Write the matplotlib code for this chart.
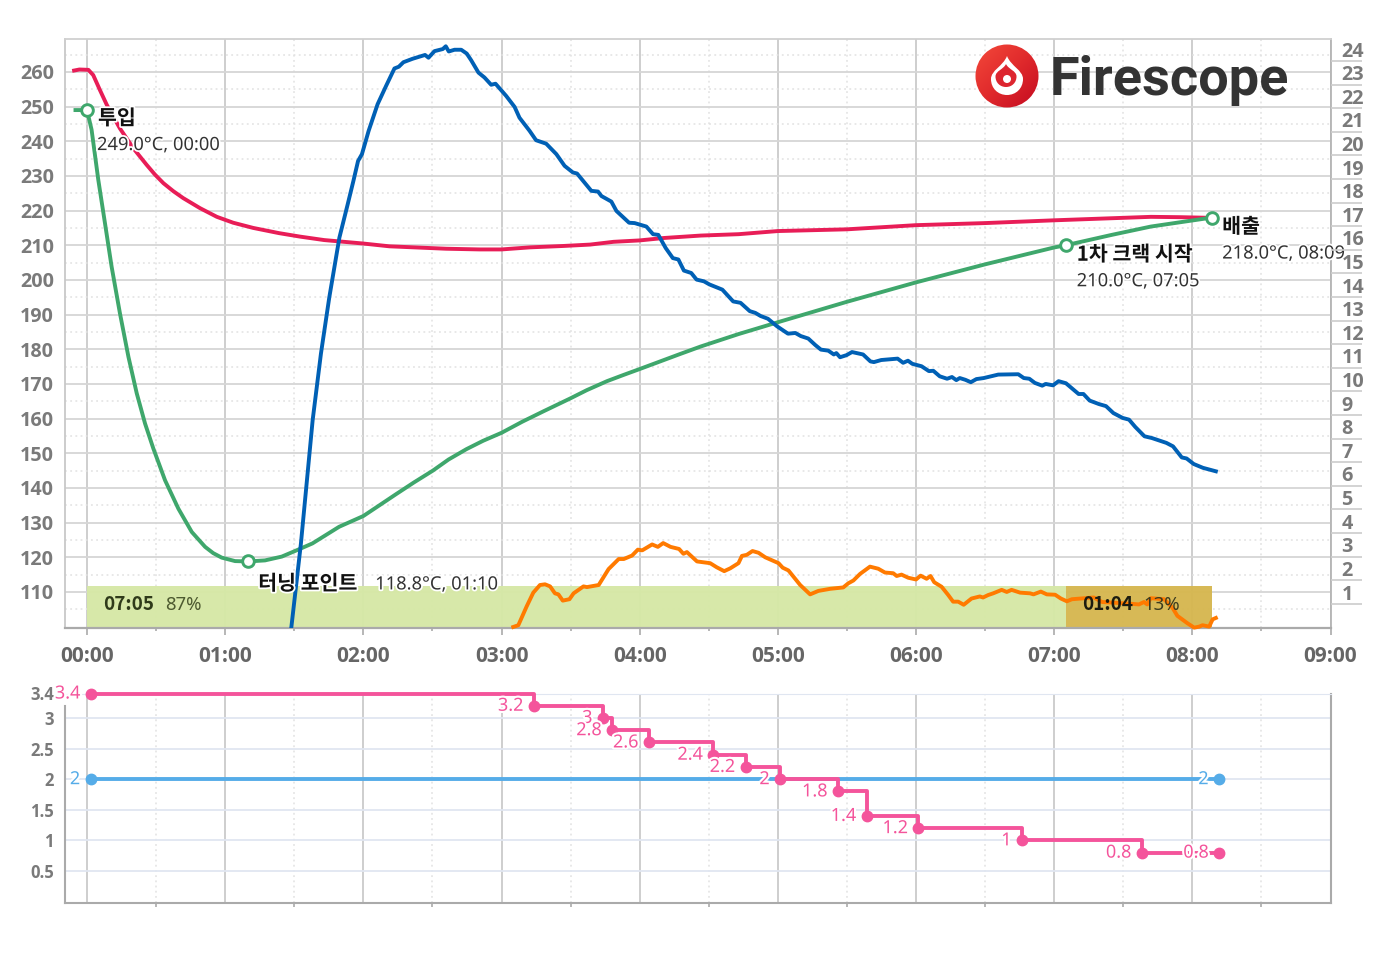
import numpy as np
import matplotlib
matplotlib.use('Agg')
import matplotlib.pyplot as plt
import matplotlib.patheffects as pe
from matplotlib.path import Path
from matplotlib.patches import PathPatch, Circle
from matplotlib.ticker import MultipleLocator, FixedLocator, FuncFormatter

KR = ['Noto Sans CJK KR', 'DejaVu Sans']
plt.rcParams['font.family'] = KR

# seconds / deg C
red_t = [-5.6, -3.3, 0.6, 2.7, 5.6, 8.6, 14.3, 20.1, 25.9, 29.5, 33.2, 37.5, 41.8, 49.1, 56.4, 63.5, 72.2, 83.4, 92.5, 103,
         120, 131.3, 156, 170.6, 180, 192.4, 206.9, 218.5, 228.7, 240, 250.5, 266.5, 283, 300, 330, 360, 390, 420,
         445, 462, 475, 489]
red_v = [260.4, 260.7, 260.6, 259.1, 254.8, 250.5, 243.7, 238, 233.2, 230.4, 227.9, 225.6, 223.6, 220.7, 218.2, 216.5, 215, 213.5, 212.5, 211.5,
         210.5, 209.7, 209, 208.8, 208.8, 209.4, 209.8, 210.2, 211, 211.4, 212.1, 212.8, 213.2, 214.1, 214.6, 215.8, 216.4, 217.2,
         217.8, 218.2, 218.1, 217.9]

green_t = [-5, 0, 2, 4.9, 7.8, 10.7, 14.3, 18, 21.6, 25.2, 28.8, 33.9, 39.7, 45.5, 51.3, 54.8, 58.5, 64.3, 70, 77.3, 84.6, 91, 97.9,
           109.5, 120, 127, 134.2, 142, 150.2, 157, 164.8, 172, 180, 189, 198.2, 209.8, 217, 225.8, 233, 240, 248.1, 257, 266.5,
           283, 300, 330, 360, 390, 420.2, 425, 445, 462, 488.6]
green_v = [249, 249, 243.3, 228.9, 216.4, 203.8, 190.4, 177.8, 167.3, 158.6, 151.4, 142.2, 134, 127.3, 123, 121.2, 119.9, 118.9, 118.8, 119.1, 120.2, 122, 124,
           128.8, 131.9, 135, 138.2, 141.6, 145, 148.2, 151.2, 153.6, 155.9, 159.1, 162.1, 165.8, 168.2, 170.8, 172.6, 174.3, 176.3, 178.5, 180.8,
           184.4, 187.8, 193.7, 199.3, 204.5, 209.4, 210, 213, 215.4, 218]

blue_t = [88.6, 92.9, 98, 101.6, 105.2, 109.6, 113.2, 115.7, 117.7, 119.4, 122.3, 126.2, 129.9, 133.5, 135.4, 137.4, 141.4, 146.8, 148.3,
          150.9, 154.5, 155.8, 157.1, 159.6, 162.5, 164.9, 166.8, 170, 172.6, 175.5, 177.4, 179.9, 182, 185.7, 187.8, 192.2, 195, 199.4,
          203.8, 207.4, 211, 212.8, 219, 221.9, 223.4, 227.7, 229.9, 235.4, 237.8, 242.9, 245.8, 248.1, 251.3, 254.4, 256.8, 259.2, 262.4,
          264.7, 267.9, 270.3, 275.9, 280.6, 283.8, 287.8, 290.2, 292.5, 295.7, 299.7, 304.4, 307.6, 310, 313.2, 316.3, 318.7, 321.9, 324.3,
          325.4, 327, 329.8, 332.2, 337, 340.2, 341.7, 344.9, 352, 354.4, 356.5, 358.4, 362.4, 365.6, 367.5, 370.3, 373.5, 375.6, 377.5, 379,
          381.4, 383.8, 386.2, 389.4, 395.7, 404.4, 406.8, 409.2, 411.6, 414.8, 416.3, 419.5, 421.9, 425.1, 428.3, 430.6, 432.7, 435.4, 439.4,
          442.5, 445.7, 449.7, 452.5, 455.2, 459.2, 462.4, 468.7, 471.6, 475.4, 477.5, 480.6, 484.6, 490.2]
blue_v = [99, 124, 159.6, 178.8, 194.9, 212.2, 221.8, 228.6, 234.3, 236.3, 243, 250.7, 256, 261, 261.5, 262.8, 263.8, 264.9, 264.1,
          266, 266.6, 267.4, 265.9, 266.4, 266.4, 265.3, 263.4, 259.8, 258.4, 256.3, 256.6, 254.7, 253.1, 249.9, 246.8, 243, 240.3, 239.3,
          236.3, 232.9, 231, 230.7, 225.7, 225.5, 224.2, 222.6, 219.9, 216.5, 216.4, 215.4, 213.2, 213, 209.2, 206.3, 205.9, 202.7, 202,
          200.1, 199.6, 198.7, 197.2, 193.8, 193.4, 191, 190.5, 189.6, 188.8, 186.6, 184.5, 184.7, 183.8, 183.1, 181.2, 179.9, 179.6, 178.5,
          178.9, 177.7, 178.3, 179.2, 178.5, 176.5, 176.3, 176.9, 177.3, 176.1, 176.7, 175.8, 175.1, 173.7, 173.8, 172.2, 171.5, 172, 171.1, 171.7,
          171.2, 170.5, 171.4, 171.7, 172.7, 172.8, 171.7, 171.5, 170.3, 169.5, 170, 169.6, 170.8, 170.2, 168.4, 167.1, 167.1, 165.2, 164.2,
          163.6, 161.6, 160.2, 159.7, 157.6, 154.9, 154.4, 153, 152, 148.8, 148.5, 146.9, 145.8, 144.8]

orange_t = [185.1, 187.3, 190.9, 193.8, 196.7, 198.9, 201.1, 203.2, 204.7, 206.6, 209.5, 211.3, 215.6, 217.1, 222.2, 226.5, 230.9, 233.1,
            236.7, 239.2, 241.1, 245.4, 247.9, 250.2, 253.4, 257.1, 259, 260.5, 264.9, 270.6, 273.5, 276.7, 279.3, 282.9, 284.4, 286.5, 289,
            291.6, 294.5, 300.3, 302.1, 304.6, 309.7, 314, 317.6, 322.7, 328.4, 330.6, 332.8, 335.7, 340, 343.6, 346.5, 350.1, 351.6, 353.7,
            356.6, 360, 362, 364.6, 366.3, 367.9, 371.1, 374, 376.1, 378.3, 380.7, 384.1, 387.7, 389.1, 391.3, 393.5, 397.2, 399.4, 401.5,
            405.2, 409.5, 411, 414.2, 416.8, 420.4, 422.9, 425.5, 427.7, 437.2, 440.8, 445.9, 453.1, 456.8, 459, 460.4, 461.9, 467.7, 471.3,
            473.5, 477.8, 480.8, 483, 484.4, 487.3, 488.8, 490.2]
orange_v = [99.9, 100.4, 105.8, 109.8, 112, 112.2, 111.6, 109.6, 109.3, 107.5, 107.9, 109.6, 111.6, 111.4, 112, 116.6, 119.5, 119.5,
            120.5, 122.2, 122, 123.7, 123, 124.1, 123, 122.4, 121, 121.5, 118.8, 118.3, 117.1, 116, 116.8, 118.3, 120.4, 120.7, 121.8,
            121.3, 120, 118.3, 117, 116.2, 112, 109.3, 110.3, 110.9, 111.3, 112.5, 113.3, 115.2, 117.3, 116.7, 115.6, 115.4, 114.6, 115,
            114.1, 113.6, 114.7, 113.8, 114.6, 112.8, 111.5, 109.1, 107.2, 107.2, 106.3, 108.1, 108.7, 108.4, 109.1, 109.6, 110.6, 110, 110.6,
            109.8, 109.6, 109.3, 110.1, 109.3, 109.2, 108.1, 107.3, 107.9, 108.4, 107.1, 106.9, 106.6, 106.4, 107.1, 106.4, 108.2, 107.9, 105.5,
            103.1, 101, 99.7, 100, 100.4, 100, 102.1, 102.5]

event_names = ['투입', '터닝 포인트', '1차 크랙 시작', '배출']
event_t = [0, 70, 425, 488.6]
event_v = [249.0, 118.8, 210.0, 218.0]
event_labels = ['249.0°C, 00:00', '118.8°C, 01:10', '210.0°C, 07:05', '218.0°C, 08:09']

phase_spans = [(0, 425), (425, 488.6)]
phase_times = ['07:05', '01:04']
phase_pcts = ['87%', '13%']

pink_t = [1.6, 194, 224, 228, 244, 272, 286, 301, 326, 338.5, 361, 406, 458, 491.6]
pink_v = [3.4, 3.2, 3, 2.8, 2.6, 2.4, 2.2, 2, 1.8, 1.4, 1.2, 1, 0.8, 0.8]
sky_t = [1.6, 491.6]
sky_v = [2, 2]

W, H = 1378, 960
RED, GREEN, BLUE, ORANGE = '#e81d57', '#3fa76c', '#0060b5', '#ff7a00'
PINK, SKY = '#f4549b', '#55ace8'
TICK = '#7a7a7a'
XMIN, XMAX = -9.55, 540.2


def px_ax(fig, left, top, right, bottom):
    return fig.add_axes([left / W, 1 - bottom / H, (right - left) / W, (bottom - top) / H])


def mmss(v, pos=None):
    return '%02d:%02d' % (int(v) // 60, int(v) % 60)


def halo(w=3):
    return [pe.withStroke(linewidth=w, foreground='white')]


def style_ticks(ax_axis, size=14.2, color=TICK):
    for lab in ax_axis.get_ticklabels():
        lab.set_fontsize(size)
        lab.set_color(color)
        lab.set_fontweight('bold')
        lab.set_family(['Open Sans', 'DejaVu Sans'])


fig = plt.figure(figsize=(W / 100, H / 100), dpi=100)
ax = px_ax(fig, 65, 39, 1331, 628)
ax.set_xlim(XMIN, XMAX)
ax.set_ylim(99.6, 269.5)
ax.set_axisbelow(True)

ax.xaxis.set_major_locator(MultipleLocator(60))
ax.xaxis.set_minor_locator(MultipleLocator(30))
ax.xaxis.set_major_formatter(FuncFormatter(mmss))
ax.yaxis.set_major_locator(FixedLocator(range(110, 270, 10)))
ax.yaxis.set_minor_locator(FixedLocator(range(105, 270, 10)))
ax.grid(which='major', axis='y', color='#d6d6d6', lw=1.3)
ax.grid(which='major', axis='x', color='#c6c6c6', lw=1.2)
ax.grid(which='minor', color='#e2e2e2', lw=1.1, ls=(0, (1.2, 2.2)))
ax.tick_params(which='major', axis='x', length=5, width=1.2, color='#aaaaaa', pad=8)
ax.tick_params(which='minor', axis='x', length=2.5, width=1.2, color='#aaaaaa')
ax.tick_params(axis='y', which='both', length=0, pad=8)
style_ticks(ax.xaxis, size=15, color='#666666')
style_ticks(ax.yaxis)
for s in ax.spines.values():
    s.set_color('#d0d0d0')
    s.set_linewidth(1.3)
ax.spines['bottom'].set_color('#aaaaaa')
ax.spines['bottom'].set_linewidth(1.6)
ax.spines['right'].set_color('#b4b4b4')
ax.spines['left'].set_color('#c8c8c8')

band_colors = ['#d6e8a6', '#d6b750']
band_top = (628 - 586) / 589
for span, col in zip(phase_spans, band_colors):
    ax.axvspan(span[0], span[1], ymin=0, ymax=band_top, color=col, alpha=0.97, lw=0, zorder=1.5)

ax.plot(red_t, red_v, color=RED, lw=2.8, zorder=3, solid_joinstyle='round')
ax.plot(green_t, green_v, color=GREEN, lw=2.8, zorder=3, solid_joinstyle='round')
ax.plot(blue_t, blue_v, color=BLUE, lw=2.8, zorder=3, solid_joinstyle='round')
ax.plot(orange_t, orange_v, color=ORANGE, lw=2.8, zorder=3, solid_joinstyle='round', clip_on=False)
ax.plot(event_t, event_v, ls='none', marker='o', ms=8.4, mfc='white', mec=GREEN, mew=2.1, zorder=4)

# label offsets in px from the marker: name (x, y), value (x, y)
offs = [((11, 8), (10, 35)), ((10, 22), (127, 23)), ((11, 9), (11, 36)), ((10, 9), (10, 36))]
for name, t, v, lab, off in zip(event_names, event_t, event_v, event_labels, offs):
    ax.annotate(name, (t, v), xytext=(off[0][0] * .72, -off[0][1] * .72), textcoords='offset points',
                fontsize=14.8, fontweight='bold', color='#111111', va='center', ha='left',
                family=KR, path_effects=halo(2.5), zorder=6)
    ax.annotate(lab, (t, v), xytext=(off[1][0] * .72, -off[1][1] * .72), textcoords='offset points',
                fontsize=13.2, color='#333333', va='center', ha='left',
                family=['Noto Sans', 'DejaVu Sans'], path_effects=halo(2.5), zorder=6)

txt_tr = ax.get_xaxis_transform()
band_y = (628 - 605) / 589
for span, tm, pct, off, tcol, pcol in zip(phase_spans, phase_times, phase_pcts, [16, 16], ['#2f3a1a', '#1c1c10'], ['#4d5a30', '#3b3b20']):
    ax.annotate(tm, (span[0], band_y), xycoords=txt_tr, xytext=(off * .72, 0), textcoords='offset points',
                fontsize=13.6, fontweight='bold', color=tcol, va='center', ha='left', zorder=6)
    ax.annotate(pct, (span[0], band_y), xycoords=txt_tr, xytext=((off + 62) * .72, 0), textcoords='offset points',
                fontsize=13.4, color=pcol, va='center', ha='left', zorder=6,
                family=['Noto Sans', 'DejaVu Sans'])

# right hand axis, labels sit between the ticks
axr = ax.twinx()
axr.set_ylim(-0.525, 24.43)
axr.yaxis.set_major_locator(FixedLocator(range(1, 25)))
axr.yaxis.set_minor_locator(FixedLocator(np.arange(0.5, 24.5, 1)))
axr.tick_params(which='major', axis='y', length=0, pad=7.5)
axr.tick_params(which='minor', axis='y', length=22, width=1.2, color='#cccccc')
style_ticks(axr.yaxis)
for s in axr.spines.values():
    s.set_visible(False)

# lower chart
ax2 = px_ax(fig, 65, 693.5, 1331, 903)
ax2.set_xlim(XMIN, XMAX)
ax2.set_ylim(-0.023, 3.4)
ax2.set_axisbelow(True)
ax2.xaxis.set_major_locator(MultipleLocator(60))
ax2.xaxis.set_minor_locator(MultipleLocator(30))
ax2.yaxis.set_major_locator(FixedLocator([0.5, 1, 1.5, 2, 2.5, 3, 3.4]))
ax2.yaxis.set_major_formatter(FuncFormatter(lambda v, p: '%g' % v))
ax2.grid(which='major', axis='y', color='#e0e6f1', lw=1.3)
ax2.grid(which='major', axis='x', color='#c6c6c6', lw=1.2)
ax2.grid(which='minor', axis='x', color='#e2e2e2', lw=1.1, ls=(0, (1.2, 2.2)))
ax2.tick_params(which='major', axis='x', length=0, labelbottom=False)
ax2.tick_params(which='minor', axis='x', length=3, width=1.2, color='#aaaaaa')
ax2.tick_params(axis='y', length=0, pad=8)
style_ticks(ax2.yaxis, size=12)
for name in ['left', 'right', 'bottom']:
    ax2.spines[name].set_color('#aaaaaa')
    ax2.spines[name].set_linewidth(1.5)
ax2.spines['top'].set_color('#e0e6f1')
ax2.spines['left'].set_bounds(-0.023, 3.2)

ax2.plot(sky_t, sky_v, color=SKY, lw=2.8, marker='o', ms=7.5, zorder=3, clip_on=False)
ax2.plot(pink_t, pink_v, color=PINK, lw=2.8, drawstyle='steps-post', zorder=4, clip_on=False, solid_joinstyle='round')
ax2.plot(pink_t, pink_v, ls='none', marker='o', ms=7.5, color=PINK, zorder=4, clip_on=False)
for t, v in zip(sky_t, sky_v):
    ax2.annotate('%g' % v, (t, v), xytext=(-7.5, 0), textcoords='offset points', fontsize=13, color=SKY,
                 va='center', ha='right', path_effects=halo(3), zorder=5, annotation_clip=False,
                 family=['Noto Sans', 'DejaVu Sans'])
for t, v in zip(pink_t, pink_v):
    ax2.annotate('%g' % v, (t, v), xytext=(-7.5, 0), textcoords='offset points', fontsize=13, color=PINK,
                 va='center', ha='right', path_effects=halo(3), zorder=5, annotation_clip=False,
                 family=['Noto Sans', 'DejaVu Sans'])

# logo
lg = fig.add_axes([0, 0, 1, 1], zorder=10)
lg.patch.set_alpha(0)
grad = np.linspace(0, 1, 64)
gx, gy = np.meshgrid(grad, grad)
cmap = matplotlib.colors.LinearSegmentedColormap.from_list('logo', ['#f4493a', '#e02a2c', '#c40a20'])
im = lg.imshow((gx + gy) / 2, extent=(975, 1039, 108, 44), cmap=cmap, aspect='auto', zorder=1)
im.set_clip_path(Circle((1007, 76), 31.5, transform=lg.transData))
lg.set_xlim(0, W)
lg.set_ylim(H, 0)
lg.axis('off')


def drop(cx, top, bot, hw):
    cy = bot - hw
    verts = [(cx, top), (cx + hw * 0.25, top + (cy - top) * 0.45), (cx + hw, cy - hw * 0.55), (cx + hw, cy),
             (cx + hw, cy + hw * 0.6), (cx + hw * 0.55, bot), (cx, bot),
             (cx - hw * 0.55, bot), (cx - hw, cy + hw * 0.6), (cx - hw, cy),
             (cx - hw, cy - hw * 0.55), (cx - hw * 0.25, top + (cy - top) * 0.45), (cx, top), (cx, top)]
    codes = [Path.MOVETO] + [Path.CURVE4] * 12 + [Path.CLOSEPOLY]
    return Path(verts, codes)


lg.add_patch(PathPatch(drop(1007, 56, 95, 16), fc='white', ec='none', zorder=2))
lg.add_patch(PathPatch(drop(1006, 64, 87, 10.5), fc='#dd2630', ec='none', zorder=3))
lg.add_patch(Circle((1007, 79), 4, fc='white', ec='none', zorder=4))
lg.text(1050, 80, 'Firescope', fontsize=39, fontweight='bold', color='#333333', va='center', ha='left',
        family=['Roboto', 'DejaVu Sans'], zorder=5)

fig.savefig('out.png', dpi=100, facecolor='white')
